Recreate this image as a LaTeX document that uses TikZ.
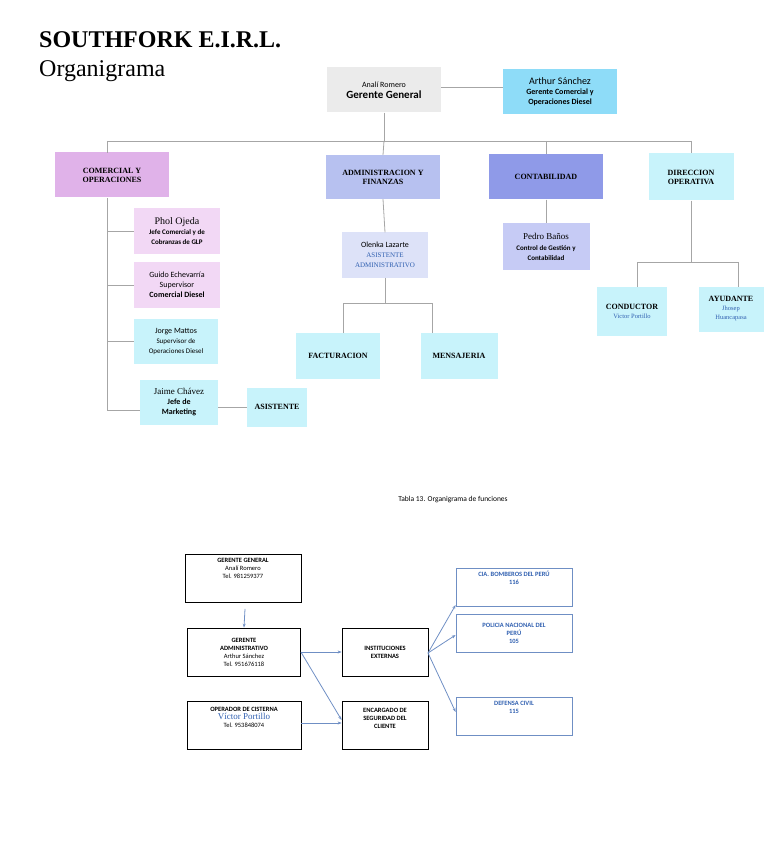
\documentclass[tikz,border=0pt]{standalone}
\usepackage{fontspec}
\setmainfont{Liberation Serif}
\newfontfamily\sansf{Carlito}
\usetikzlibrary{arrows.meta}
\definecolor{lila}{HTML}{E0B2E9}
\definecolor{lilaclaro}{HTML}{F2D8F5}
\definecolor{azuladm}{HTML}{B7C1F0}
\definecolor{azulclaro}{HTML}{DDE2F8}
\definecolor{azulcont}{HTML}{8F9AE8}
\definecolor{azulpedro}{HTML}{C6CBF5}
\definecolor{cian}{HTML}{C8F3FB}
\definecolor{cianfuerte}{HTML}{8EDCF8}
\definecolor{gris}{HTML}{EBEBEB}
\definecolor{flecha}{HTML}{6F8FC4}
\definecolor{textoazul}{HTML}{2F5FB0}
\tikzset{
  box/.style={rectangle, draw=none, align=center, inner sep=1pt},
  hdr/.style={box, font=\fontsize{8}{9}\selectfont\bfseries},
  sbox/.style={box, font=\sansf\fontsize{8}{10}\selectfont},
  line/.style={draw=gray!70, line width=0.8pt},
  wbox/.style={rectangle, draw=black, line width=0.8pt, align=center,
               inner sep=1pt, font=\sansf\bfseries\fontsize{6.5}{8}\selectfont},
  arr/.style={draw=flecha, line width=0.8pt, -{Stealth[length=4pt]}}
}
\begin{document}
\begin{tikzpicture}[x=1pt,y=-1pt]
\useasboundingbox (0,0) rectangle (768,866);
% titulo
\node[anchor=west, inner sep=0, font=\fontsize{24}{26}\selectfont\bfseries] (t1) at (39,40) {SOUTHFORK E.I.R.L.};
\node[anchor=west, inner sep=0, font=\fontsize{24}{26}\selectfont] (t2) at (39,71) {Organigrama};
% nivel superior
\node[sbox, fill=gris, minimum width=114, minimum height=45] (ger) at (384,90)
  {Analí Romero\\[1pt]{\fontsize{11}{12}\selectfont\bfseries Gerente General}};
\node[sbox, fill=cianfuerte, minimum width=114, minimum height=45] (art) at (560,92)
  {{\fontsize{10}{11}\selectfont Arthur Sánchez}\\{\bfseries Gerente Comercial y}\\{\bfseries Operaciones Diesel}};
\draw[line] (ger.east |- 0,87) -- (art.west |- 0,87);
% areas
\node[hdr, fill=lila, minimum width=114, minimum height=45] (com) at (112,175) {COMERCIAL Y\\OPERACIONES};
\node[hdr, fill=azuladm, minimum width=114, minimum height=44] (adm) at (383,177) {ADMINISTRACION Y\\FINANZAS};
\node[hdr, fill=azulcont, minimum width=114, minimum height=45] (con) at (546,177) {CONTABILIDAD};
\node[hdr, fill=cian, minimum width=85, minimum height=47] (dir) at (691,177) {DIRECCION\\OPERATIVA};
\coordinate (bus) at (384,141);
\draw[line] (ger.south) -- (bus);
\draw[line] (107,141) -- (691,141);
\draw[line] (107,141) -- (107,153);
\draw[line] (bus) -- (adm.north);
\draw[line] (546,141) -- (con.north);
\draw[line] (691,141) -- (dir.north);
% comercial
\node[sbox, fill=lilaclaro, minimum width=86, minimum height=46] (pho) at (177,231)
  {{\rmfamily\fontsize{10}{11}\selectfont Phol Ojeda}\\{\bfseries\fontsize{7}{9}\selectfont Jefe Comercial y de}\\{\bfseries\fontsize{7}{9}\selectfont Cobranzas de GLP}};
\node[sbox, fill=lilaclaro, minimum width=86, minimum height=45] (gui) at (177,285)
  {Guido Echevarría\\Supervisor\\{\bfseries Comercial Diesel}};
\node[sbox, fill=cian, minimum width=84, minimum height=45] (jor) at (176,341)
  {Jorge Mattos\\{\fontsize{7}{9}\selectfont Supervisor de}\\{\fontsize{7}{9}\selectfont Operaciones Diesel}};
\node[sbox, fill=cian, minimum width=78, minimum height=45] (jai) at (179,402)
  {{\rmfamily\fontsize{9}{10}\selectfont Jaime Chávez}\\{\bfseries Jefe de}\\{\bfseries Marketing}};
\node[hdr, fill=cian, minimum width=60, minimum height=39] (asi) at (277,407) {ASISTENTE};
\draw[line] (107,198) -- (107,410) -- (jai.west |- 0,410);
\draw[line] (107,231) -- (pho.west);
\draw[line] (107,285) -- (gui.west);
\draw[line] (107,341) -- (jor.west);
\draw[line] (jai.east |- asi) -- (asi.west);
% administracion
\node[sbox, fill=azulclaro, minimum width=86, minimum height=45] (ole) at (385,255)
  {Olenka Lazarte\\{\rmfamily\color{textoazul}\fontsize{7}{8}\selectfont ASISTENTE}\\{\rmfamily\color{textoazul}\fontsize{7}{8}\selectfont ADMINISTRATIVO}};
\node[hdr, fill=cian, minimum width=84, minimum height=46] (fac) at (338,356) {FACTURACION};
\node[hdr, fill=cian, minimum width=77, minimum height=46] (men) at (459,356) {MENSAJERIA};
\draw[line] (adm.south) -- (ole.north);
\draw[line] (ole.south) -- (385,303);
\draw[line] (343,333) -- (343,303) -- (432,303) -- (432,333);
% contabilidad
\node[sbox, fill=azulpedro, minimum width=87, minimum height=47] (ped) at (546,247)
  {{\rmfamily\fontsize{9}{10}\selectfont Pedro Baños}\\[1pt]{\bfseries\fontsize{7}{9}\selectfont Control de Gestión y}\\{\bfseries\fontsize{7}{9}\selectfont Contabilidad}};
\draw[line] (con.south) -- (ped.north);
% direccion
\node[hdr, fill=cian, minimum width=70, minimum height=49] (cnd) at (632,311)
  {CONDUCTOR\\{\mdseries\color{textoazul}\fontsize{6.5}{8}\selectfont Victor Portillo}};
\node[hdr, fill=cian, minimum width=65, minimum height=45] (ayu) at (731,309)
  {AYUDANTE\\{\mdseries\color{textoazul}\fontsize{6.5}{8}\selectfont Jhosep}\\{\mdseries\color{textoazul}\fontsize{6.5}{8}\selectfont Huancapasa}};
\draw[line] (dir.south) -- (691,262);
\draw[line] (637,287) -- (637,262) -- (738,262) -- (738,287);
% leyenda
\node[font=\sansf\fontsize{7.5}{9}\selectfont] (cap) at (453,500) {Tabla 13. Organigrama de funciones};
% diagrama de funciones
\node[wbox, minimum width=116, minimum height=48, anchor=north, text depth=20pt] (gg) at (243,554)
  {GERENTE GENERAL\\{\mdseries Analí Romero}\\{\mdseries Tel. 981259377}};
\node[wbox, minimum width=113, minimum height=48] (ga) at (244,652)
  {GERENTE\\ADMINISTRATIVO\\{\mdseries Arthur Sánchez}\\{\mdseries Tel. 951676118}};
\node[wbox, minimum width=114, minimum height=48] (op) at (244,725)
  {OPERADOR DE CISTERNA\\{\rmfamily\mdseries\color{textoazul}\fontsize{9}{10}\selectfont Víctor Portillo}\\{\mdseries Tel. 953848074}\\[8pt]};
\node[wbox, minimum width=86, minimum height=48] (ins) at (385,652) {INSTITUCIONES\\EXTERNAS};
\node[wbox, minimum width=86, minimum height=48] (enc) at (385,725) {ENCARGADO DE\\SEGURIDAD DEL\\CLIENTE\\[6pt]};
\node[wbox, draw=flecha, text=textoazul, minimum width=116, minimum height=38] (cia) at (514,587)
  {CIA. BOMBEROS DEL PERÚ\\116\\[10pt]};
\node[wbox, draw=flecha, text=textoazul, minimum width=116, minimum height=38] (pol) at (514,633)
  {POLICIA NACIONAL DEL\\PERÚ\\105};
\node[wbox, draw=flecha, text=textoazul, minimum width=116, minimum height=38] (def) at (514,716)
  {DEFENSA CIVIL\\115\\[10pt]};
\draw[arr] (gg.south) ++(2,6) -- (ga.north);
\draw[arr] (ga.east |- 0,652) -- (ins.west);
\draw[arr] (ga.east |- 0,652) -- (enc.west |- 0,720);
\draw[arr] (op.east |- 0,723) -- (enc.west |- 0,723);
\coordinate (ie) at (428,653);
\draw[arr] (ie) -- (cia.west |- 0,605);
\draw[arr] (ie) -- (pol.west |- 0,635);
\draw[arr] (ie) -- (def.west |- 0,712);
\end{tikzpicture}
\end{document}
